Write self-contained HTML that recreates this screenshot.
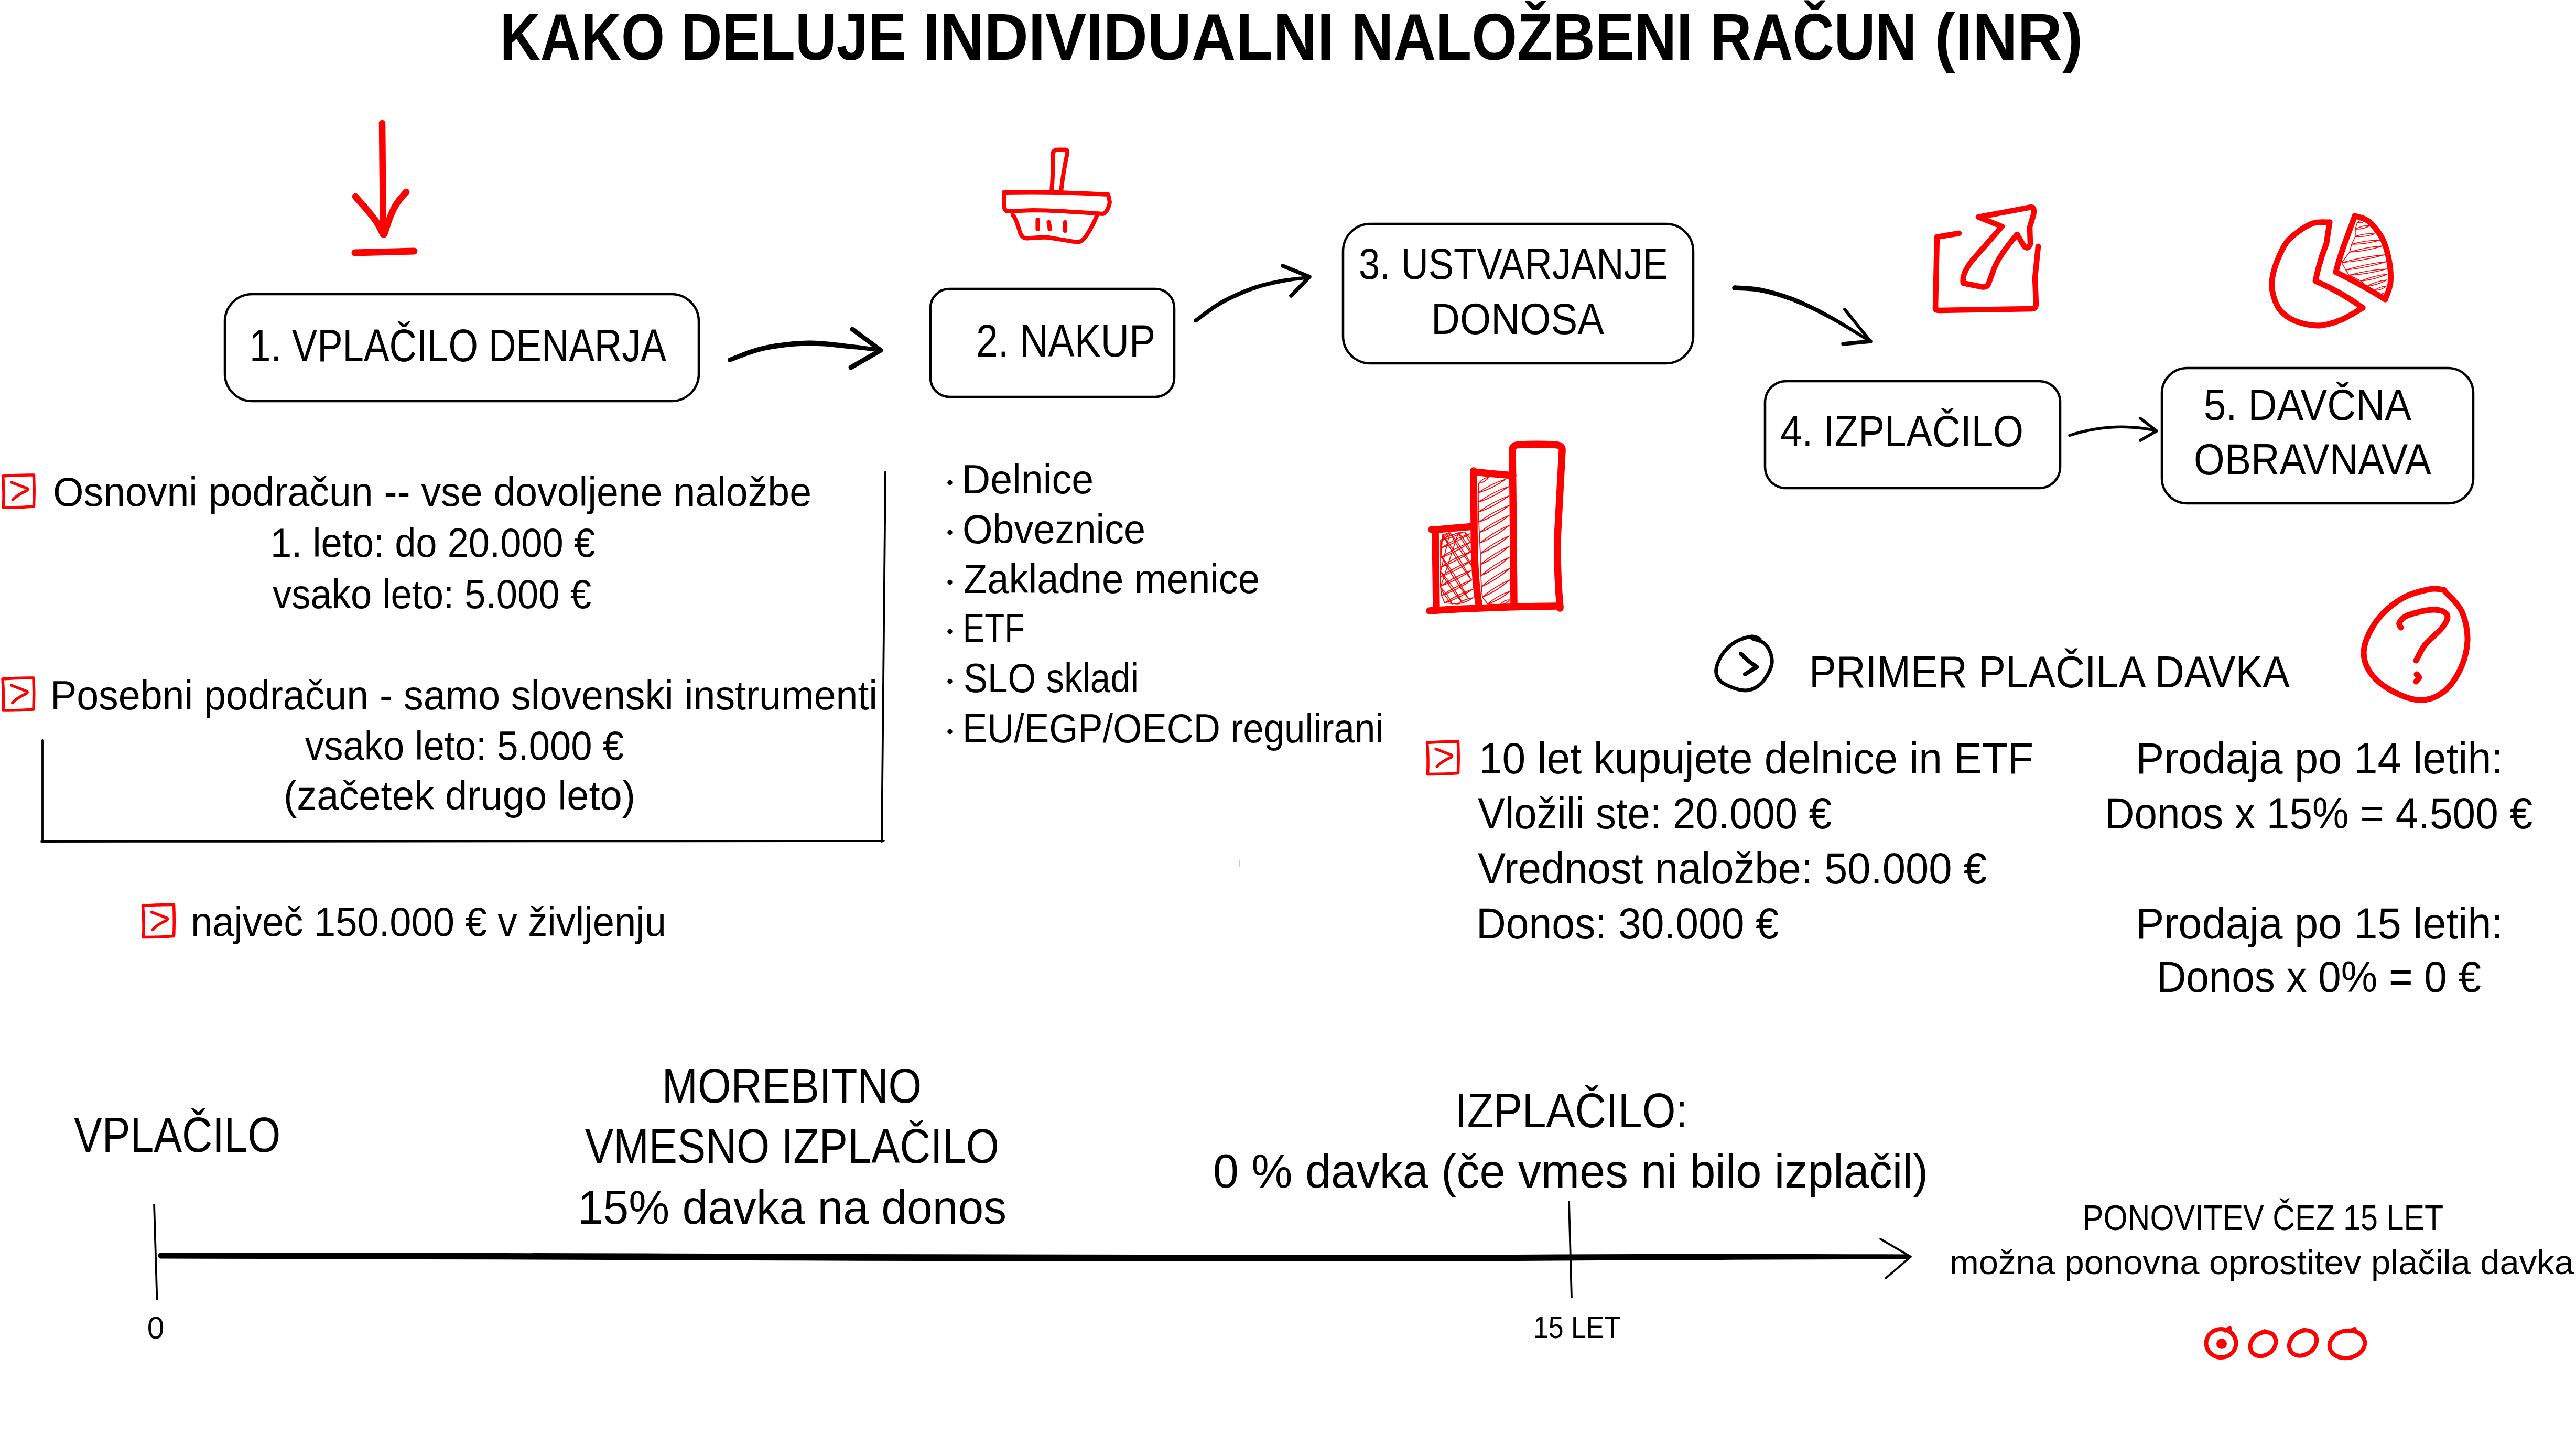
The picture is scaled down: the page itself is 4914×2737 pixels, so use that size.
<!DOCTYPE html>
<html><head><meta charset="utf-8"><title>INR</title>
<style>
html,body{margin:0;padding:0;background:#fff;}
body{width:4914px;height:2737px;overflow:hidden;}
svg{display:block;font-family:"Liberation Sans",sans-serif;}
text{white-space:pre;}
</style></head><body>
<svg width="4914" height="2737" viewBox="0 0 4914 2737">
<rect x="0" y="0" width="4914" height="2737" fill="#fff"/>
<text x="953.7" y="114" font-size="126" font-weight="bold" fill="#000" textLength="314.4" lengthAdjust="spacingAndGlyphs">KAKO</text>
<text x="1298.8" y="114" font-size="126" font-weight="bold" fill="#000" textLength="430.3" lengthAdjust="spacingAndGlyphs">DELUJE</text>
<text x="1760.8" y="114" font-size="126" font-weight="bold" fill="#000" textLength="784.3" lengthAdjust="spacingAndGlyphs">INDIVIDUALNI</text>
<text x="2577.8" y="114" font-size="126" font-weight="bold" fill="#000" textLength="651.3" lengthAdjust="spacingAndGlyphs">NALOŽBENI</text>
<text x="3262.7" y="114" font-size="126" font-weight="bold" fill="#000" textLength="393.5" lengthAdjust="spacingAndGlyphs">RAČUN</text>
<text x="3690.7" y="114" font-size="126" font-weight="bold" fill="#000" textLength="282.6" lengthAdjust="spacingAndGlyphs">(INR)</text>
<rect x="429" y="561" width="904" height="204" rx="52" ry="52" stroke="#000" stroke-width="4.5" fill="none"/>
<text x="476" y="689" font-size="88" font-weight="normal" fill="#000" textLength="795" lengthAdjust="spacingAndGlyphs">1. VPLAČILO DENARJA</text>
<rect x="1775" y="551" width="465" height="206" rx="36" ry="36" stroke="#000" stroke-width="4.5" fill="none"/>
<text x="1861.9" y="680" font-size="88" font-weight="normal" fill="#000" textLength="342.2" lengthAdjust="spacingAndGlyphs">2. NAKUP</text>
<rect x="2562" y="427" width="668" height="266" rx="52" ry="52" stroke="#000" stroke-width="4.5" fill="none"/>
<text x="2592" y="532" font-size="84" font-weight="normal" fill="#000" textLength="590.1" lengthAdjust="spacingAndGlyphs">3. USTVARJANJE</text>
<text x="2729.9" y="637" font-size="84" font-weight="normal" fill="#000" textLength="330.1" lengthAdjust="spacingAndGlyphs">DONOSA</text>
<rect x="3367" y="727" width="563" height="204" rx="40" ry="40" stroke="#000" stroke-width="4.5" fill="none"/>
<text x="3396" y="851" font-size="84" font-weight="normal" fill="#000" textLength="464.1" lengthAdjust="spacingAndGlyphs">4. IZPLAČILO</text>
<rect x="4124" y="702" width="594" height="258" rx="48" ry="48" stroke="#000" stroke-width="4.5" fill="none"/>
<text x="4204" y="801" font-size="84" font-weight="normal" fill="#000" textLength="396" lengthAdjust="spacingAndGlyphs">5. DAVČNA</text>
<text x="4185" y="905" font-size="84" font-weight="normal" fill="#000" textLength="453" lengthAdjust="spacingAndGlyphs">OBRAVNAVA</text>
<text x="101" y="965" font-size="77" font-weight="normal" fill="#000" textLength="1447" lengthAdjust="spacingAndGlyphs">Osnovni podračun -- vse dovoljene naložbe</text>
<text x="516" y="1062" font-size="77" font-weight="normal" fill="#000" textLength="619.1" lengthAdjust="spacingAndGlyphs">1. leto: do 20.000 €</text>
<text x="520" y="1160" font-size="77" font-weight="normal" fill="#000" textLength="608" lengthAdjust="spacingAndGlyphs">vsako leto: 5.000 €</text>
<text x="96" y="1353" font-size="77" font-weight="normal" fill="#000" textLength="1578.1" lengthAdjust="spacingAndGlyphs">Posebni podračun - samo slovenski instrumenti</text>
<text x="582" y="1449" font-size="77" font-weight="normal" fill="#000" textLength="608" lengthAdjust="spacingAndGlyphs">vsako leto: 5.000 €</text>
<text x="540.9" y="1544" font-size="77" font-weight="normal" fill="#000" textLength="671.2" lengthAdjust="spacingAndGlyphs">(začetek drugo leto)</text>
<text x="363.9" y="1785" font-size="77" font-weight="normal" fill="#000" textLength="907.1" lengthAdjust="spacingAndGlyphs">največ 150.000 € v življenju</text>
<text x="1834.8" y="941" font-size="77" font-weight="normal" fill="#000" textLength="251.3" lengthAdjust="spacingAndGlyphs">Delnice</text>
<text x="1835.9" y="1036" font-size="77" font-weight="normal" fill="#000" textLength="349.1" lengthAdjust="spacingAndGlyphs">Obveznice</text>
<text x="1838" y="1131" font-size="77" font-weight="normal" fill="#000" textLength="565" lengthAdjust="spacingAndGlyphs">Zakladne menice</text>
<text x="1836.7" y="1225" font-size="77" font-weight="normal" fill="#000" textLength="117.5" lengthAdjust="spacingAndGlyphs">ETF</text>
<text x="1837.9" y="1320" font-size="77" font-weight="normal" fill="#000" textLength="334.2" lengthAdjust="spacingAndGlyphs">SLO skladi</text>
<text x="1835.9" y="1416" font-size="77" font-weight="normal" fill="#000" textLength="803.2" lengthAdjust="spacingAndGlyphs">EU/EGP/OECD regulirani</text>
<circle cx="1812" cy="920.5" r="4.7" fill="#000"/>
<circle cx="1812" cy="1015.5" r="4.7" fill="#000"/>
<circle cx="1812" cy="1110.5" r="4.7" fill="#000"/>
<circle cx="1812" cy="1204.5" r="4.7" fill="#000"/>
<circle cx="1812" cy="1299.5" r="4.7" fill="#000"/>
<circle cx="1812" cy="1395.5" r="4.7" fill="#000"/>
<text x="3451" y="1311" font-size="86" font-weight="normal" fill="#000" textLength="917" lengthAdjust="spacingAndGlyphs">PRIMER PLAČILA DAVKA</text>
<text x="2820.9" y="1475" font-size="84" font-weight="normal" fill="#000" textLength="1058.1" lengthAdjust="spacingAndGlyphs">10 let kupujete delnice in ETF</text>
<text x="2819" y="1580" font-size="84" font-weight="normal" fill="#000" textLength="675" lengthAdjust="spacingAndGlyphs">Vložili ste: 20.000 €</text>
<text x="2819" y="1685" font-size="84" font-weight="normal" fill="#000" textLength="971" lengthAdjust="spacingAndGlyphs">Vrednost naložbe: 50.000 €</text>
<text x="2815.9" y="1790" font-size="84" font-weight="normal" fill="#000" textLength="577.1" lengthAdjust="spacingAndGlyphs">Donos: 30.000 €</text>
<text x="4073.9" y="1475" font-size="84" font-weight="normal" fill="#000" textLength="701.3" lengthAdjust="spacingAndGlyphs">Prodaja po 14 letih:</text>
<text x="4014.9" y="1580" font-size="84" font-weight="normal" fill="#000" textLength="816.1" lengthAdjust="spacingAndGlyphs">Donos x 15% = 4.500 €</text>
<text x="4073.9" y="1790" font-size="84" font-weight="normal" fill="#000" textLength="701.3" lengthAdjust="spacingAndGlyphs">Prodaja po 15 letih:</text>
<text x="4113.9" y="1892" font-size="84" font-weight="normal" fill="#000" textLength="619.1" lengthAdjust="spacingAndGlyphs">Donos x 0% = 0 €</text>
<text x="141" y="2197" font-size="95" font-weight="normal" fill="#000" textLength="394.1" lengthAdjust="spacingAndGlyphs">VPLAČILO</text>
<text x="1262.8" y="2103" font-size="93" font-weight="normal" fill="#000" textLength="495.3" lengthAdjust="spacingAndGlyphs">MOREBITNO</text>
<text x="1116" y="2218" font-size="93" font-weight="normal" fill="#000" textLength="790" lengthAdjust="spacingAndGlyphs">VMESNO IZPLAČILO</text>
<text x="1101.9" y="2334" font-size="90" font-weight="normal" fill="#000" textLength="818.1" lengthAdjust="spacingAndGlyphs">15% davka na donos</text>
<text x="2775.8" y="2150" font-size="93" font-weight="normal" fill="#000" textLength="443.5" lengthAdjust="spacingAndGlyphs">IZPLAČILO:</text>
<text x="2314" y="2265" font-size="90" font-weight="normal" fill="#000" textLength="1364.1" lengthAdjust="spacingAndGlyphs">0 % davka (če vmes ni bilo izplačil)</text>
<text x="280.7" y="2553" font-size="59" font-weight="normal" fill="#000" textLength="32.7" lengthAdjust="spacingAndGlyphs">0</text>
<text x="2924.9" y="2552" font-size="59" font-weight="normal" fill="#000" textLength="167.2" lengthAdjust="spacingAndGlyphs">15 LET</text>
<text x="3973" y="2346" font-size="68" font-weight="normal" fill="#000" textLength="688.1" lengthAdjust="spacingAndGlyphs">PONOVITEV ČEZ 15 LET</text>
<text x="3719" y="2430" font-size="65" font-weight="normal" fill="#000" textLength="1191" lengthAdjust="spacingAndGlyphs">možna ponovna oprostitev plačila davka</text>
<path d="M1689 900 L1682 1605" stroke="#000" stroke-width="3.8" fill="none" stroke-linecap="round" stroke-linejoin="round" />
<path d="M79 1605 L1686 1604" stroke="#000" stroke-width="3.8" fill="none" stroke-linecap="round" stroke-linejoin="round" />
<path d="M81 1412 L81 1605" stroke="#000" stroke-width="3.8" fill="none" stroke-linecap="round" stroke-linejoin="round" />
<path d="M294 2296 L299.5 2480" stroke="#000" stroke-width="3.8" fill="none" stroke-linecap="round" stroke-linejoin="round" style="stroke-linecap:butt"/>
<path d="M2993 2291 L2998 2476" stroke="#000" stroke-width="3.8" fill="none" stroke-linecap="round" stroke-linejoin="round" style="stroke-linecap:butt"/>
<path d="M307 2400.5 L393.2 2400.8 L512.3 2401.1 L653.5 2401.5 L805.8 2401.9 L958.2 2402.3 L1100 2402.7 L1232.9 2403.2 L1366.1 2403.7 L1499.5 2404.2 L1633.1 2404.7 L1766.6 2405.1 L1900 2405.5 L2036.8 2405.7 L2177.8 2405.8 L2318.7 2405.9 L2455.6 2405.9 L2584 2405.9 L2700 2405.7 L2801.4 2405.5 L2891.1 2405 L2972.5 2404.6 L3048.9 2404.1 L3123.6 2403.6 L3200 2403.2 L3281.9 2402.9 L3367.4 2402.5 L3451.3 2402.2 L3528.2 2402 L3592.8 2401.7 L3640 2401.5 L3640 2392.5 L3592.8 2392.3 L3528.1 2392.2 L3451.2 2392 L3367.4 2391.9 L3281.9 2391.8 L3200 2391.8 L3123.6 2391.9 L3048.9 2392.2 L2972.5 2392.6 L2891.1 2392.9 L2801.4 2393.1 L2700 2393.3 L2584 2393.3 L2455.6 2393.3 L2318.8 2393.2 L2177.8 2393 L2036.8 2392.8 L1900 2392.5 L1766.6 2392.2 L1633.1 2391.9 L1499.6 2391.4 L1366.2 2391 L1232.9 2390.6 L1100 2390.3 L958.3 2390 L805.8 2389.9 L653.5 2389.7 L512.3 2389.6 L393.2 2389.5 L307 2389.5 Z" fill="#000"/>
<circle cx="307" cy="2395" r="5.5" fill="#000"/>
<circle cx="3640" cy="2397" r="4.5" fill="#000"/>
<path d="M3587 2363 L3645 2397 L3597 2438" stroke="#000" stroke-width="3.8" fill="none" stroke-linecap="round" stroke-linejoin="round" />
<path d="M1393.4 690.4 L1396.1 689.5 L1399.3 688.3 L1403 686.9 L1407.1 685.3 L1411.5 683.6 L1416.2 681.9 L1421.2 680 L1426.4 678.1 L1431.8 676.3 L1437.2 674.5 L1442.7 672.8 L1448.1 671.2 L1453.5 669.8 L1458.8 668.6 L1464.2 667.6 L1469.7 666.5 L1475.4 665.6 L1481.2 664.7 L1487.1 663.8 L1493.1 663 L1499.2 662.3 L1505.3 661.7 L1511.4 661.1 L1517.6 660.6 L1523.7 660.3 L1529.8 659.9 L1535.8 659.7 L1541.8 659.6 L1547.7 659.5 L1553.8 659.6 L1560 659.9 L1566.2 660.2 L1572.5 660.6 L1578.8 661.1 L1585 661.7 L1591.2 662.3 L1597.3 662.9 L1603.2 663.5 L1609 664.2 L1614.6 664.7 L1620 665.3 L1625 665.8 L1629.9 666.2 L1634.7 666.6 L1639.4 667.1 L1644 667.6 L1648.5 668.1 L1652.8 668.6 L1657 669 L1660.9 669.5 L1664.6 669.9 L1668 670.3 L1671.1 670.7 L1673.9 671 L1676.4 671.3 L1678.6 671.5 L1679.4 664.5 L1677.4 664.2 L1674.9 663.8 L1672.1 663.3 L1669 662.8 L1665.6 662.3 L1661.9 661.7 L1658 661.1 L1653.9 660.5 L1649.6 659.9 L1645.1 659.2 L1640.4 658.6 L1635.7 658 L1630.8 657.4 L1626 656.8 L1620.9 656.3 L1615.6 655.7 L1610.1 655 L1604.3 654.3 L1598.3 653.6 L1592.2 652.9 L1586 652.2 L1579.6 651.6 L1573.3 651 L1566.9 650.5 L1560.5 650.1 L1554.1 649.8 L1547.8 649.6 L1541.6 649.6 L1535.5 649.8 L1529.3 650 L1523.1 650.4 L1516.8 650.8 L1510.6 651.3 L1504.3 652 L1498.1 652.6 L1491.9 653.4 L1485.8 654.2 L1479.7 655.1 L1473.8 656.1 L1468 657.1 L1462.3 658.2 L1456.8 659.4 L1451.3 660.7 L1445.6 662.2 L1440 663.9 L1434.3 665.7 L1428.8 667.6 L1423.3 669.6 L1418.1 671.6 L1413.1 673.5 L1408.3 675.4 L1403.9 677.2 L1399.8 678.8 L1396.2 680.2 L1393.1 681.4 L1390.6 682.4 Z" fill="#000"/>
<circle cx="1392" cy="686.4" r="4.2" fill="#000"/>
<circle cx="1679" cy="668" r="3.5" fill="#000"/>
<path d="M1626 628 L1680 668 L1623 701" stroke="#000" stroke-width="9" fill="none" stroke-linecap="round" stroke-linejoin="round" />
<path d="M2283.2 614.5 L2285.2 613.1 L2287.6 611.3 L2290.4 609.3 L2293.4 607 L2296.7 604.5 L2300.3 601.8 L2304.1 599.1 L2307.9 596.2 L2311.9 593.4 L2316 590.6 L2320.1 587.8 L2324.1 585.2 L2328.1 582.7 L2332 580.5 L2335.9 578.3 L2339.9 576.2 L2344 574.1 L2348.2 572 L2352.5 569.9 L2356.9 567.9 L2361.3 565.9 L2365.6 563.9 L2370 562.1 L2374.4 560.3 L2378.7 558.5 L2383 556.8 L2387.2 555.3 L2391.3 553.8 L2395.4 552.4 L2399.3 551 L2403.3 549.8 L2407.2 548.6 L2411.1 547.5 L2415 546.5 L2418.9 545.5 L2422.8 544.6 L2426.6 543.7 L2430.4 542.8 L2434.3 542 L2438.1 541.2 L2441.9 540.4 L2445.7 539.7 L2449.6 538.9 L2453.6 538.2 L2457.8 537.5 L2462.1 536.8 L2466.4 536.1 L2470.7 535.5 L2474.8 535 L2478.9 534.4 L2482.8 533.9 L2486.4 533.5 L2489.7 533.1 L2492.7 532.7 L2495.3 532.3 L2497.4 532 L2496.6 526 L2494.5 526.2 L2492 526.5 L2489 526.8 L2485.7 527.1 L2482 527.4 L2478.1 527.8 L2474 528.3 L2469.8 528.7 L2465.5 529.2 L2461.1 529.8 L2456.7 530.4 L2452.5 531 L2448.3 531.6 L2444.3 532.3 L2440.4 533.1 L2436.6 533.8 L2432.7 534.6 L2428.9 535.4 L2425 536.2 L2421 537.1 L2417.1 538 L2413.1 539 L2409.1 540 L2405.1 541.1 L2401 542.2 L2396.9 543.5 L2392.8 544.8 L2388.7 546.2 L2384.5 547.8 L2380.2 549.4 L2375.8 551.1 L2371.4 552.8 L2366.9 554.7 L2362.5 556.6 L2358 558.6 L2353.5 560.6 L2349.1 562.7 L2344.7 564.8 L2340.4 566.9 L2336.2 569.1 L2332.1 571.3 L2328 573.5 L2324 575.9 L2319.9 578.5 L2315.7 581.2 L2311.5 584.1 L2307.4 587 L2303.4 589.9 L2299.4 592.8 L2295.7 595.6 L2292.1 598.4 L2288.8 600.9 L2285.8 603.2 L2283.1 605.3 L2280.7 607 L2278.8 608.5 Z" fill="#000"/>
<circle cx="2281" cy="611.5" r="3.8" fill="#000"/>
<circle cx="2497" cy="529" r="3" fill="#000"/>
<path d="M2447 507 L2498 528 L2463 564" stroke="#000" stroke-width="7.5" fill="none" stroke-linecap="round" stroke-linejoin="round" />
<path d="M3308.7 553.7 L3310.7 553.9 L3313.3 554 L3316.1 554.1 L3319.3 554.2 L3322.7 554.3 L3326.3 554.5 L3330.2 554.6 L3334.2 554.9 L3338.3 555.2 L3342.5 555.5 L3346.7 556 L3350.9 556.5 L3355 557.2 L3359.1 557.9 L3363.2 558.8 L3367.5 559.7 L3371.9 560.7 L3376.3 561.8 L3380.8 563 L3385.4 564.3 L3390.1 565.6 L3394.8 567 L3399.5 568.5 L3404.3 570 L3409.1 571.7 L3413.9 573.3 L3418.7 575.1 L3423.4 577 L3428.2 578.9 L3433.1 580.9 L3438 583 L3442.9 585.1 L3447.9 587.4 L3452.8 589.7 L3457.9 592.1 L3462.9 594.6 L3467.9 597.1 L3473 599.7 L3478 602.3 L3483.1 604.9 L3488.2 607.6 L3493.2 610.3 L3498.4 613.1 L3503.9 616.2 L3509.6 619.4 L3515.5 622.9 L3521.4 626.4 L3527.3 629.9 L3533.2 633.4 L3538.8 636.8 L3544.2 640.1 L3549.2 643.2 L3553.9 646 L3558 648.5 L3561.6 650.6 L3564.6 652.3 L3567.4 647.7 L3564.6 645.8 L3561.1 643.6 L3557 641 L3552.5 638 L3547.5 634.8 L3542.2 631.4 L3536.6 627.9 L3530.8 624.2 L3525 620.6 L3519.1 616.9 L3513.2 613.4 L3507.5 609.9 L3502 606.7 L3496.8 603.7 L3491.8 600.9 L3486.7 598.2 L3481.6 595.4 L3476.6 592.8 L3471.5 590.1 L3466.4 587.5 L3461.4 584.9 L3456.3 582.4 L3451.3 580 L3446.3 577.7 L3441.3 575.4 L3436.4 573.2 L3431.5 571.1 L3426.6 569 L3421.7 567.1 L3416.8 565.3 L3411.9 563.5 L3407 561.8 L3402.2 560.2 L3397.3 558.7 L3392.6 557.2 L3387.8 555.8 L3383.1 554.5 L3378.5 553.3 L3374 552.1 L3369.5 551 L3365.2 550 L3360.9 549.1 L3356.6 548.3 L3352.2 547.5 L3347.8 546.9 L3343.4 546.4 L3339 546 L3334.8 545.7 L3330.7 545.4 L3326.8 545.2 L3323.1 545 L3319.6 544.8 L3316.5 544.7 L3313.7 544.6 L3311.3 544.4 L3309.3 544.3 Z" fill="#000"/>
<circle cx="3309" cy="549" r="4.8" fill="#000"/>
<circle cx="3566" cy="650" r="2.8" fill="#000"/>
<path d="M3519 590 L3568 651" stroke="#000" stroke-width="6" fill="none" stroke-linecap="round" stroke-linejoin="round" />
<path d="M3568 651 L3516 656" stroke="#000" stroke-width="7.5" fill="none" stroke-linecap="round" stroke-linejoin="round" />
<path d="M3948 830.5 Q4030 804 4112 821" stroke="#000" stroke-width="5.5" fill="none" stroke-linecap="round" stroke-linejoin="round" />
<path d="M4083 798 L4114 822 L4083 840" stroke="#000" stroke-width="5.5" fill="none" stroke-linecap="round" stroke-linejoin="round" />
<path d="M729 235 L731 445" stroke="#fe0000" stroke-width="12.5" fill="none" stroke-linecap="round" stroke-linejoin="round" />
<path d="M678 375 C681.7 379.2 693.3 392 700 400 C706.7 408 712.8 415.2 718 423 C723.2 430.8 728.8 443 731 447" stroke="#fe0000" stroke-width="12.5" fill="none" stroke-linecap="round" stroke-linejoin="round" />
<path d="M775 366 C772 369.7 762 380.3 757 388 C752 395.7 749 402.2 745 412 C741 421.8 735 441.2 733 447" stroke="#fe0000" stroke-width="12.5" fill="none" stroke-linecap="round" stroke-linejoin="round" />
<path d="M677 482 L790 479" stroke="#fe0000" stroke-width="13" fill="none" stroke-linecap="round" stroke-linejoin="round" />
<path d="M2009 290 Q2011 286 2018 285.5 L2032 285.5 Q2037 286 2036 292 Q2027 335 2024 366 L2006 366 Q2009 330 2009 290 Z" stroke="#fe0000" stroke-width="8" fill="none" stroke-linecap="round" stroke-linejoin="round" />
<path d="M1915 367 Q2010 365 2114 371 L2117 386 Q2113 405 2104 408 Q2010 401 1970 401 L1922 403 Q1916 402 1915 392 Z" stroke="#fe0000" stroke-width="8" fill="none" stroke-linecap="round" stroke-linejoin="round" />
<path d="M1932 410 Q1938 416 1946 444 Q1950 455 1960 454.5 Q1985 452 2000 453 L2055 462 Q2064 462 2074 447 Q2086 428 2092 412" stroke="#fe0000" stroke-width="8" fill="none" stroke-linecap="round" stroke-linejoin="round" />
<path d="M1979.5 419 L1979.5 437" stroke="#fe0000" stroke-width="8.2" fill="none" stroke-linecap="round" stroke-linejoin="round" />
<path d="M2000.5 424 Q2002.5 432 2002.5 437" stroke="#fe0000" stroke-width="8.2" fill="none" stroke-linecap="round" stroke-linejoin="round" />
<path d="M2032 424 L2032 440" stroke="#fe0000" stroke-width="8.2" fill="none" stroke-linecap="round" stroke-linejoin="round" />
<path d="M3737 445 L3695 452 L3692 588 Q3692 592 3700 592 L3876 589 Q3884 589 3884 580 L3882 530 L3888 470" stroke="#fe0000" stroke-width="10.5" fill="none" stroke-linecap="round" stroke-linejoin="round" />
<path d="M3774 414 L3875 395 Q3882 396 3879 410 L3872 433 L3873 466 Q3868 478 3860 468 L3848 447 Q3815 485 3804 512 L3793 542 Q3790 549 3780 547 L3745 540 Q3742 522 3762 497 Q3790 465 3819 432 Z" stroke="#fe0000" stroke-width="10.5" fill="none" stroke-linecap="round" stroke-linejoin="round" />
<path d="M4444 424 C4439.2 424.2 4424.3 422.5 4415 425 C4405.7 427.5 4396.8 432.8 4388 439 C4379.2 445.2 4369.5 451.8 4362 462 C4354.5 472.2 4347.7 487.7 4343 500 C4338.3 512.3 4335 525.2 4334 536 C4333 546.8 4334.3 555.7 4337 565 C4339.7 574.3 4343.2 584.2 4350 592 C4356.8 599.8 4365.8 607.2 4378 612 C4390.2 616.8 4408.3 621.3 4423 621 C4437.7 620.7 4452 615.7 4466 610 C4480 604.3 4500.2 590.8 4507 587" stroke="#fe0000" stroke-width="10.8" fill="none" stroke-linecap="round" stroke-linejoin="round" />
<path d="M4507 587 Q4468 558 4417 536 Q4424 500 4438 464 L4444 424" stroke="#fe0000" stroke-width="10.8" fill="none" stroke-linecap="round" stroke-linejoin="round" />
<path d="M4492 412 C4494.8 412.8 4503.7 414.5 4509 417 C4514.3 419.5 4517.8 420.2 4524 427 C4530.2 433.8 4540.3 445.8 4546 458 C4551.7 470.2 4555.7 486.3 4558 500 C4560.3 513.7 4561.3 528.2 4560 540 C4558.7 551.8 4551.7 565.8 4550 571" stroke="#fe0000" stroke-width="10.8" fill="none" stroke-linecap="round" stroke-linejoin="round" />
<path d="M4550 571 Q4505 543 4456 519 Q4462 492 4478 450 L4492 412" stroke="#fe0000" stroke-width="10.8" fill="none" stroke-linecap="round" stroke-linejoin="round" />
<path d="M4497 424 Q4504.1 427 4510 422 Q4502.9 419 4497 424 L4493 437 Q4508.4 437.4 4522 430 Q4506.6 429.6 4493 437 L4493 451 Q4512 452.5 4530 446 Q4511 444.5 4493 451 L4486 466 Q4513.6 466 4540 458 Q4512.4 458 4486 466 L4482 481 Q4514.7 478.9 4546 469 Q4513.3 471.1 4482 481 L4467 501 Q4508.7 497.4 4549 486 Q4507.3 489.6 4467 501 L4475 515 Q4514.8 510.9 4553 499 Q4513.2 503.1 4475 515 L4481 525 Q4517.7 522.9 4553 513 Q4516.3 515.1 4481 525 L4504 536 Q4530 533.4 4554 523 Q4528 525.6 4504 536 L4515 546 Q4535.2 543.8 4553 534 Q4532.8 536.2 4515 546 L4530 554 Q4542.4 553.8 4552 546 Q4539.6 546.2 4530 554 L4544 563 Q4548.4 564.7 4548 560 Q4543.6 558.3 4544 563" stroke="#fe0000" stroke-width="1.5" fill="none" stroke-linecap="round" stroke-linejoin="round" />
<path d="M2727 1165 Q2850 1157 2976 1156" stroke="#fe0000" stroke-width="13.5" fill="none" stroke-linecap="round" stroke-linejoin="round" />
<path d="M2731 1010 L2738 1010 L2740 1160" stroke="#fe0000" stroke-width="13.5" fill="none" stroke-linecap="round" stroke-linejoin="round" />
<path d="M2736 1010.5 L2811 1004" stroke="#fe0000" stroke-width="13.5" fill="none" stroke-linecap="round" stroke-linejoin="round" />
<path d="M2811 898 L2812 1000 Q2812 1100 2821 1152" stroke="#fe0000" stroke-width="13.5" fill="none" stroke-linecap="round" stroke-linejoin="round" />
<path d="M2811 900 Q2850 904 2886 907" stroke="#fe0000" stroke-width="13.5" fill="none" stroke-linecap="round" stroke-linejoin="round" />
<path d="M2888 1153 L2886 940 L2885 858 Q2885 849 2896 848.5 Q2930 846 2968 848.5 Q2981 849 2980 860 L2971 1026 Q2970 1090 2976 1160" stroke="#fe0000" stroke-width="13.5" fill="none" stroke-linecap="round" stroke-linejoin="round" />
<path d="M2748 1030 Q2770.3 1026.3 2790 1015 Q2767.7 1018.7 2748 1030 L2748 1046 Q2777.3 1035.6 2803 1018 Q2773.7 1028.4 2748 1046 L2748 1064 Q2778.4 1052.5 2805 1034 Q2774.6 1045.5 2748 1064 L2748 1082 Q2778.8 1070.6 2806 1052 Q2775.2 1063.4 2748 1082 L2748 1100 Q2778.8 1088.6 2806 1070 Q2775.2 1081.4 2748 1100 L2748 1118 Q2779.3 1106.6 2807 1088 Q2775.7 1099.4 2748 1118 L2750 1136 Q2780.8 1124.6 2808 1106 Q2777.2 1117.4 2750 1136 L2756 1150 Q2784.3 1140.6 2809 1124 Q2780.7 1133.4 2756 1150 L2780 1152 Q2796.5 1149.7 2810 1140 Q2793.5 1142.3 2780 1152" stroke="#fe0000" stroke-width="1.7" fill="none" stroke-linecap="round" stroke-linejoin="round" />
<path d="M2750 1032 Q2760 1026.6 2764 1016 Q2754 1021.4 2750 1032 L2749 1060 Q2771.1 1102.2 2800 1140 Q2777.9 1097.8 2749 1060 L2752 1020 Q2775.6 1064.6 2806 1105 Q2782.4 1060.4 2752 1020 L2766 1016 Q2783.7 1050.2 2808 1080 Q2790.3 1045.8 2766 1016 L2748 1090 Q2765.7 1122.3 2790 1150 Q2772.3 1117.7 2748 1090 L2748 1120 Q2755.7 1138.3 2770 1152 Q2762.3 1133.7 2748 1120 L2782 1016 Q2791.6 1038.2 2808 1056 Q2798.4 1033.8 2782 1016 L2795 1016 Q2798.6 1029.1 2809 1038 Q2805.4 1024.9 2795 1016" stroke="#fe0000" stroke-width="1.7" fill="none" stroke-linecap="round" stroke-linejoin="round" />
<path d="M2821 922 Q2833.2 920.2 2840 910 Q2827.8 911.8 2821 922 L2820 940 Q2848.2 931.5 2872 914 Q2843.8 922.5 2820 940 L2820 958 Q2851.3 947.4 2878 928 Q2846.7 938.6 2820 958 L2820 977 Q2851.4 965.9 2878 946 Q2846.6 957.1 2820 977 L2821 996 Q2852.4 984.4 2879 964 Q2847.6 975.6 2821 996 L2822 1016 Q2853 1003.8 2879 983 Q2848 995.2 2822 1016 L2823 1036 Q2853.6 1023.3 2879 1002 Q2848.4 1014.7 2823 1036 L2824 1056 Q2854.1 1043.3 2879 1022 Q2848.9 1034.7 2824 1056 L2824 1077 Q2854.2 1063.7 2879 1042 Q2848.8 1055.3 2824 1077 L2825 1098 Q2854.7 1084.7 2879 1063 Q2849.3 1076.3 2825 1098 L2826 1119 Q2855.7 1105.7 2880 1084 Q2850.3 1097.3 2826 1119 L2828 1139 Q2856.7 1126.7 2880 1106 Q2851.3 1118.3 2828 1139 L2838 1152 Q2861.5 1144.3 2880 1128 Q2856.5 1135.7 2838 1152 L2862 1153 Q2873.2 1153 2880 1144 Q2868.8 1144 2862 1153" stroke="#fe0000" stroke-width="1.7" fill="none" stroke-linecap="round" stroke-linejoin="round" />
<path d="M3357 1219 C3354.3 1218.2 3348.7 1213.2 3341 1214 C3333.3 1214.8 3320 1218.7 3311 1224 C3302 1229.3 3293.2 1237.5 3287 1246 C3280.8 1254.5 3275.3 1266.7 3274 1275 C3272.7 1283.3 3274.8 1290.3 3279 1296 C3283.2 1301.7 3290.7 1305.5 3299 1309 C3307.3 1312.5 3320 1317 3329 1317 C3338 1317 3346.2 1313.5 3353 1309 C3359.8 1304.5 3365.5 1297.3 3370 1290 C3374.5 1282.7 3379 1273 3380 1265 C3381 1257 3378.7 1248.5 3376 1242 C3373.3 1235.5 3369.5 1230 3364 1226 C3358.5 1222 3346.5 1219.3 3343 1218" stroke="#000" stroke-width="7" fill="none" stroke-linecap="round" stroke-linejoin="round" />
<path d="M3321 1247 C3323.5 1249.3 3331 1256.8 3336 1261 C3341 1265.2 3348.5 1270.2 3351 1272" stroke="#000" stroke-width="8" fill="none" stroke-linecap="round" stroke-linejoin="round" />
<path d="M3351 1272 L3329 1286" stroke="#000" stroke-width="8" fill="none" stroke-linecap="round" stroke-linejoin="round" />
<path d="M4662 1125 C4657.3 1124.8 4647.2 1121.3 4634 1124 C4620.8 1126.7 4599.3 1131.5 4583 1141 C4566.7 1150.5 4548.2 1165.3 4536 1181 C4523.8 1196.7 4512.8 1218.7 4510 1235 C4507.2 1251.3 4511 1265.7 4519 1279 C4527 1292.3 4542.3 1305.7 4558 1315 C4573.7 1324.3 4596.3 1333.8 4613 1335 C4629.7 1336.2 4644.8 1331.3 4658 1322 C4671.2 1312.7 4683.8 1295.7 4692 1279 C4700.2 1262.3 4706.3 1240.8 4707 1222 C4707.7 1203.2 4703.2 1181.7 4696 1166 C4688.8 1150.3 4669.3 1134.3 4664 1128" stroke="#fe0000" stroke-width="11" fill="none" stroke-linecap="round" stroke-linejoin="round" />
<path d="M4580 1197 C4579.5 1195.5 4575.3 1191.7 4577 1188 C4578.7 1184.3 4581.2 1179 4590 1175 C4598.8 1171 4618.7 1165.7 4630 1164 C4641.3 1162.3 4651.5 1162.8 4658 1165 C4664.5 1167.2 4669 1171.5 4669 1177 C4669 1182.5 4665.2 1189.2 4658 1198 C4650.8 1206.8 4634.2 1219.7 4626 1230 C4617.8 1240.3 4611.8 1255 4609 1260" stroke="#fe0000" stroke-width="11" fill="none" stroke-linecap="round" stroke-linejoin="round" />
<path d="M4610 1286 L4615 1292 L4609 1300" stroke="#fe0000" stroke-width="11" fill="none" stroke-linecap="round" stroke-linejoin="round" />
<path d="M5.5 908.0 Q35.5 905.5 64.5 906.0 Q66.0 936.5 64.5 966.0 Q35.5 968.5 6.5 968.0 Q8.0 938.5 5.5 908.0 Z" stroke="#fe0000" stroke-width="5.5" fill="none" stroke-linecap="round" stroke-linejoin="round" />
<path d="M22.0 920.0 L51.5 931.5 Q54.5 933.5 50.5 936.0 Q33.5 943.5 24.0 953.5" stroke="#fe0000" stroke-width="5.2" fill="none" stroke-linecap="round" stroke-linejoin="round" />
<path d="M5 1295.0 Q35 1292.5 64 1293.0 Q65.5 1323.5 64 1353.0 Q35 1355.5 6 1355.0 Q7.5 1325.5 5 1295.0 Z" stroke="#fe0000" stroke-width="5.5" fill="none" stroke-linecap="round" stroke-linejoin="round" />
<path d="M21.5 1307.0 L51 1318.5 Q54 1320.5 50 1323.0 Q33 1330.5 23.5 1340.5" stroke="#fe0000" stroke-width="5.2" fill="none" stroke-linecap="round" stroke-linejoin="round" />
<path d="M272.5 1727.5 Q302.5 1725 331.5 1725.5 Q333.0 1756 331.5 1785.5 Q302.5 1788 273.5 1787.5 Q275.0 1758 272.5 1727.5 Z" stroke="#fe0000" stroke-width="5.5" fill="none" stroke-linecap="round" stroke-linejoin="round" />
<path d="M289.0 1739.5 L318.5 1751 Q321.5 1753 317.5 1755.5 Q300.5 1763 291.0 1773" stroke="#fe0000" stroke-width="5.2" fill="none" stroke-linecap="round" stroke-linejoin="round" />
<path d="M2722.5 1416.5 Q2752.5 1414 2781.5 1414.5 Q2783.0 1445 2781.5 1474.5 Q2752.5 1477 2723.5 1476.5 Q2725.0 1447 2722.5 1416.5 Z" stroke="#fe0000" stroke-width="5.5" fill="none" stroke-linecap="round" stroke-linejoin="round" />
<path d="M2739.0 1428.5 L2768.5 1440 Q2771.5 1442 2767.5 1444.5 Q2750.5 1452 2741.0 1462" stroke="#fe0000" stroke-width="5.2" fill="none" stroke-linecap="round" stroke-linejoin="round" />
<rect x="2364" y="1640" width="1.5" height="13" fill="#c8c8c8"/>
<path d="M4246.7 2536.6 C4251.2 2538.2 4255.8 2541.2 4258.8 2544.6 C4261.9 2548.1 4264.2 2552.9 4265.1 2557.3 C4265.9 2561.7 4265.4 2567 4263.8 2571.2 C4262.2 2575.5 4259 2579.8 4255.3 2582.7 C4251.7 2585.6 4246.6 2587.8 4241.9 2588.6 C4237.3 2589.4 4231.7 2588.9 4227.3 2587.4 C4222.8 2585.8 4218.2 2582.8 4215.2 2579.4 C4212.1 2575.9 4209.8 2571.1 4208.9 2566.7 C4208.1 2562.3 4208.6 2557 4210.2 2552.8 C4211.8 2548.5 4215 2544.2 4218.7 2541.3 C4222.3 2538.4 4227.4 2536.2 4232.1 2535.4 C4236.7 2534.6 4242.3 2535.1 4246.7 2536.6 Z" stroke="#fe0000" stroke-width="8" fill="none" stroke-linecap="round" stroke-linejoin="round" />
<path d="M4244.7 2537.6 L4253.7 2533.6" stroke="#fe0000" stroke-width="8" fill="none" stroke-linecap="round" stroke-linejoin="round" />
<circle cx="4238" cy="2563" r="10" fill="#fe0000"/>
<path d="M4313 2542.2 C4317 2540.9 4321.8 2540.4 4325.6 2541 C4329.4 2541.6 4333.3 2543.4 4335.9 2545.8 C4338.5 2548.2 4340.5 2551.8 4341.1 2555.4 C4341.8 2558.9 4341.3 2563.3 4339.9 2567.1 C4338.5 2570.8 4335.7 2574.9 4332.6 2577.9 C4329.4 2580.8 4325.1 2583.4 4321 2584.8 C4317 2586.1 4312.2 2586.6 4308.4 2586 C4304.6 2585.4 4300.7 2583.6 4298.1 2581.2 C4295.5 2578.8 4293.5 2575.2 4292.9 2571.6 C4292.2 2568.1 4292.7 2563.7 4294.1 2559.9 C4295.5 2556.2 4298.3 2552.1 4301.4 2549.1 C4304.6 2546.2 4308.9 2543.6 4313 2542.2 Z" stroke="#fe0000" stroke-width="8" fill="none" stroke-linecap="round" stroke-linejoin="round" />
<path d="M4311 2543.2 L4320 2539.2" stroke="#fe0000" stroke-width="8" fill="none" stroke-linecap="round" stroke-linejoin="round" />
<path d="M4389 2539.1 C4393.3 2537.6 4398.4 2537 4402.5 2537.6 C4406.5 2538.2 4410.7 2540.1 4413.4 2542.6 C4416.1 2545 4418.2 2548.8 4418.9 2552.6 C4419.5 2556.3 4419 2561 4417.4 2565 C4415.8 2569 4412.8 2573.3 4409.4 2576.5 C4406 2579.6 4401.3 2582.4 4397 2583.9 C4392.7 2585.4 4387.6 2586 4383.5 2585.4 C4379.5 2584.8 4375.3 2582.9 4372.6 2580.4 C4369.9 2578 4367.8 2574.2 4367.1 2570.4 C4366.5 2566.7 4367 2562 4368.6 2558 C4370.2 2554 4373.2 2549.7 4376.6 2546.5 C4380 2543.4 4384.7 2540.6 4389 2539.1 Z" stroke="#fe0000" stroke-width="8" fill="none" stroke-linecap="round" stroke-linejoin="round" />
<path d="M4387 2540.1 L4396 2536.1" stroke="#fe0000" stroke-width="8" fill="none" stroke-linecap="round" stroke-linejoin="round" />
<path d="M4484.7 2537.9 C4490.2 2538.5 4496.1 2540.4 4500.2 2543 C4504.4 2545.7 4508 2549.7 4509.7 2553.7 C4511.4 2557.8 4511.7 2562.9 4510.5 2567.2 C4509.3 2571.6 4506.3 2576.3 4502.5 2579.8 C4498.7 2583.3 4493.1 2586.5 4487.8 2588.2 C4482.4 2589.9 4475.8 2590.6 4470.3 2590.1 C4464.8 2589.5 4458.9 2587.6 4454.8 2585 C4450.6 2582.3 4447 2578.3 4445.3 2574.3 C4443.6 2570.2 4443.3 2565.1 4444.5 2560.8 C4445.7 2556.4 4448.7 2551.7 4452.5 2548.2 C4456.3 2544.7 4461.9 2541.5 4467.2 2539.8 C4472.6 2538.1 4479.2 2537.4 4484.7 2537.9 Z" stroke="#fe0000" stroke-width="8" fill="none" stroke-linecap="round" stroke-linejoin="round" />
<path d="M4482.7 2538.9 L4491.7 2534.9" stroke="#fe0000" stroke-width="8" fill="none" stroke-linecap="round" stroke-linejoin="round" />
</svg>
</body></html>
